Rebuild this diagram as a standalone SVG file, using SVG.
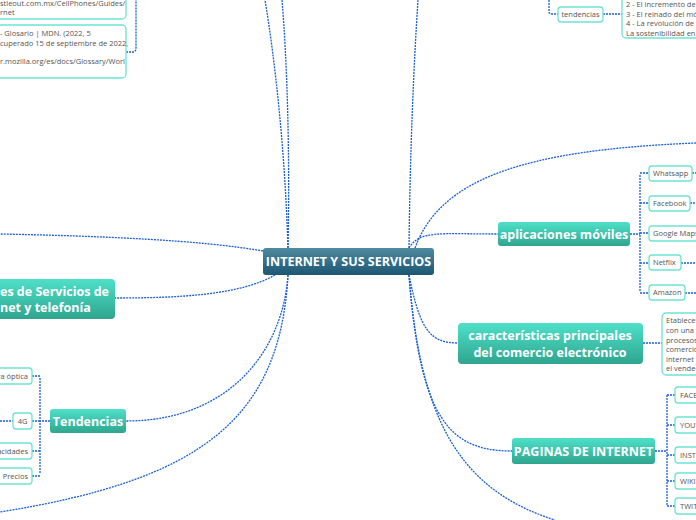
<svg xmlns="http://www.w3.org/2000/svg" width="696" height="520" viewBox="0 0 696 520">
<defs>
<linearGradient id="gc" x1="0" y1="0" x2="0" y2="1"><stop offset="0" stop-color="#4f8aa0"/><stop offset="1" stop-color="#1c5672"/></linearGradient>
<linearGradient id="gt" x1="0" y1="0" x2="0" y2="1"><stop offset="0" stop-color="#4ee0c8"/><stop offset="1" stop-color="#2fa58f"/></linearGradient>
</defs>
<style>
.c{fill:none;stroke:#1a5fd6;stroke-width:1.3;stroke-dasharray:2 1}
.leaf{fill:#fff;stroke:#6fe3d3;stroke-width:1.3}
.lt{font-family:"Open Sans","Noto Sans",sans-serif;font-size:7.5px;fill:#555}
.tt{font-family:"Open Sans","Noto Sans",sans-serif;font-size:12.5px;font-weight:bold;fill:#fff}
</style>
<rect width="696" height="520" fill="#fff"/>
<g id="connectors">
<path class="c" d="M288,248 C285,150 275,60 265,0"/>
<path class="c" d="M288,248 C290,150 287,60 282,0"/>
<path class="c" d="M409,248 C410,150 414,60 418,0"/>
<path class="c" d="M415,248 C440,180 520,150 696,143"/>
<path class="c" d="M263,251 C200,240 100,236 0,234"/>
<path class="c" d="M275,275 C240,295 180,298 115,298"/>
<path class="c" d="M288,275 C283,350 230,421 126,421"/>
<path class="c" d="M288,275 C280,420 200,480 0,512"/>
<path class="c" d="M409,248 C420,230 440,234 498,234"/>
<path class="c" d="M409,275 C420,330 430,343 458,343"/>
<path class="c" d="M409,275 C420,420 450,451 512,451"/>
<path class="c" d="M409,275 C420,420 460,490 555,520"/>
<path class="c" d="M549,0 V12 Q549,14 552,14 H558"/>
<path class="c" d="M603,14 H622"/>
<path class="c" d="M126,52 H133 Q136,52 136,48 V0"/>
<path class="c" d="M630,234 H640 M640,175 V292 M640,173 H649 M640,203 H649 M640,233 H649 M640,263 H649 M640,293 H649"/>
<path class="c" d="M692,173 H696 M690,203 H696 M681,263 H696 M685,293 H696"/>
<path class="c" d="M643,343 H662"/>
<path class="c" d="M655,451 H667 M667,395 V506 M667,395 H675 M667,425 H675 M667,455 H675 M667,481 H675 M667,506 H675"/>
<path class="c" d="M50,421 H40 M40,378 V474 M32,376 H40 M32,421 H40 M32,451 H40 M32,476 H40 M0,421 H13"/>
</g>
<g id="ref1"><rect class="leaf" x="-10" y="-6" width="136" height="25" rx="4"/><text class="lt" x="0" y="6">stleout.com.mx/CellPhones/Guides/</text><text class="lt" x="0" y="15">rnet</text></g>
<g id="ref2"><rect class="leaf" x="-10" y="25" width="136" height="53" rx="4"/><text class="lt" x="0" y="36">- Glosario | MDN. (2022, 5</text><text class="lt" x="0" y="46">cuperado 15 de septiembre de 2022,</text><text class="lt" x="0" y="64">r.mozilla.org/es/docs/Glossary/Worl</text></g>
<g id="tendencias-top"><rect class="leaf" x="558" y="7" width="45" height="15" rx="3"/><text class="lt" x="580.5" y="17" text-anchor="middle">tendencias</text></g>
<g id="tend-text"><rect class="leaf" x="622" y="-6" width="90" height="44" rx="4"/><text class="lt" x="626" y="7">2 - El incremento de la</text><text class="lt" x="626" y="17">3 - El reinado del móv</text><text class="lt" x="626" y="26">4 - La revolución de la</text><text class="lt" x="626" y="36">La sostenibilidad en l</text></g>
<g id="center"><rect x="263" y="248" width="171" height="27" rx="3" fill="url(#gc)"/><text class="tt" x="348.5" y="266" text-anchor="middle" font-size="12">INTERNET Y SUS SERVICIOS</text></g>
<g id="proveedores"><rect x="-20" y="279" width="135" height="40" rx="4" fill="url(#gt)"/><text class="tt" x="0" y="296">es de Servicios de</text><text class="tt" x="0" y="312">net y telefonía</text></g>
<g id="tendencias"><rect x="50" y="409" width="76" height="24" rx="3" fill="url(#gt)"/><text class="tt" x="88" y="426" text-anchor="middle">Tendencias</text></g>
<g id="t1"><rect class="leaf" x="-10" y="368" width="42" height="16" rx="3"/><text class="lt" x="28" y="379" text-anchor="end">ra óptica</text></g>
<g id="t2"><rect class="leaf" x="13" y="413" width="19" height="16" rx="3"/><text class="lt" x="22.5" y="424" text-anchor="middle">4G</text></g>
<g id="t3"><rect class="leaf" x="-10" y="443" width="42" height="16" rx="3"/><text class="lt" x="28" y="454" text-anchor="end">acidades</text></g>
<g id="t4"><rect class="leaf" x="-10" y="468" width="42" height="16" rx="3"/><text class="lt" x="28" y="479" text-anchor="end">Precios</text></g>
<g id="apps"><rect x="498" y="222" width="132" height="24" rx="3" fill="url(#gt)"/><text class="tt" x="564" y="239" text-anchor="middle">aplicaciones móviles</text></g>
<g id="a1"><rect class="leaf" x="649" y="166" width="43" height="15" rx="3"/><text class="lt" x="653" y="176">Whatsapp</text></g>
<g id="a2"><rect class="leaf" x="649" y="196" width="41" height="15" rx="3"/><text class="lt" x="653" y="206">Facebook</text></g>
<g id="a3"><rect class="leaf" x="649" y="226" width="55" height="15" rx="3"/><text class="lt" x="653" y="236">Google Maps</text></g>
<g id="a4"><rect class="leaf" x="649" y="255" width="32" height="15" rx="3"/><text class="lt" x="653" y="265">Netflix</text></g>
<g id="a5"><rect class="leaf" x="649" y="285" width="36" height="15" rx="3"/><text class="lt" x="653" y="295">Amazon</text></g>
<g id="caract"><rect x="458" y="323" width="185" height="41" rx="4" fill="url(#gt)"/><text class="tt" x="550" y="340" text-anchor="middle">características principales</text><text class="tt" x="550" y="357" text-anchor="middle">del comercio electrónico</text></g>
<g id="caract-text"><rect class="leaf" x="662" y="313" width="50" height="62" rx="4"/><text class="lt" x="666" y="323">Etablecer</text><text class="lt" x="666" y="333">con una p</text><text class="lt" x="666" y="343">procesos</text><text class="lt" x="666" y="352">comercio</text><text class="lt" x="666" y="362">internet y</text><text class="lt" x="666" y="371">el vended</text></g>
<g id="paginas"><rect x="512" y="438" width="143" height="26" rx="3" fill="url(#gt)"/><text class="tt" x="583.5" y="456" text-anchor="middle" font-size="12">PAGINAS DE INTERNET</text></g>
<g id="p1"><rect class="leaf" x="675" y="387" width="30" height="16" rx="3"/><text class="lt" x="680" y="398">FACE</text></g>
<g id="p2"><rect class="leaf" x="675" y="417" width="30" height="16" rx="3"/><text class="lt" x="680" y="428">YOUT</text></g>
<g id="p3"><rect class="leaf" x="675" y="447" width="30" height="16" rx="3"/><text class="lt" x="680" y="458">INSTA</text></g>
<g id="p4"><rect class="leaf" x="675" y="473" width="30" height="16" rx="3"/><text class="lt" x="680" y="484">WIKI</text></g>
<g id="p5"><rect class="leaf" x="675" y="498" width="30" height="16" rx="3"/><text class="lt" x="680" y="509">TWIT</text></g>
</svg>
